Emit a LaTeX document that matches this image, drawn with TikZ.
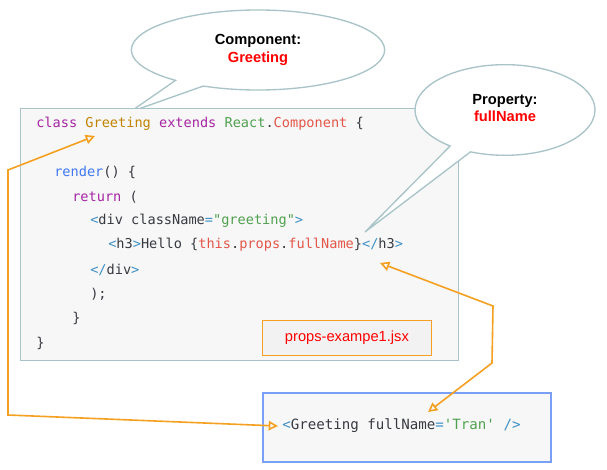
\documentclass[tikz,border=0pt]{standalone}
\usepackage{fontspec}
\setmainfont{Liberation Sans}
\setmonofont{DejaVu Sans Mono}
\usetikzlibrary{arrows.meta,shapes.callouts}
\definecolor{kw}{HTML}{A626A4}
\definecolor{cls}{HTML}{C18401}
\definecolor{grn}{HTML}{50A14F}
\definecolor{rd}{HTML}{E45649}
\definecolor{bl}{HTML}{4078F2}
\definecolor{tag}{HTML}{3C8FC6}
\definecolor{txt}{HTML}{383A42}
\definecolor{org}{HTML}{F5A020}
\definecolor{bubble}{HTML}{A9C4C8}
\tikzset{
 code/.style={anchor=west,inner sep=0pt,font=\ttfamily\fontsize{10.2}{12}\selectfont,text=txt},
 conn/.style={draw=org,line width=1.2pt,{Triangle[open,length=7pt,width=7pt]}-{Triangle[open,length=7pt,width=7pt]}},
 callout/.style={ellipse callout,draw=bubble,fill=white,inner sep=0pt},
 lbl/.style={font=\bfseries\fontsize{11}{13}\selectfont,align=center}
}
\begin{document}
\begin{tikzpicture}[x=0.75pt,y=-0.75pt]
\useasboundingbox (0,0) rectangle (607,470);
\node[draw=bubble,fill=white,line width=1pt,minimum width=125pt*1.0,callout absolute pointer={(130,112)},ellipse callout,minimum width=190pt,minimum height=60pt] (c1) at (258,50) {};
\node[lbl] (l1) at (258,50) {Component:\\\textcolor{red}{Greeting}};
\node[draw=bubble,line width=1pt,fill=none,rectangle,minimum width=328.5pt,minimum height=189pt,anchor=north west,fill=black!3] (box) at (20,108) {};
\node[draw=bubble,fill=white,line width=1pt,callout absolute pointer={(365,232)},ellipse callout,minimum width=135pt,minimum height=68pt] (c2) at (505,110) {};
\node[lbl] (l2) at (505,108) {Property:\\\textcolor{red}{fullName}};
\node[code] (t1) at (36,124) {\textcolor{kw}{class} \textcolor{cls}{Greeting} \textcolor{kw}{extends} \textcolor{grn}{React}.\textcolor{rd}{Component} \{};
\node[code] (t2) at (54,172) {\textcolor{bl}{render}() \{};
\node[code] (t3) at (72,197) {\textcolor{kw}{return} (};
\node[code] (t4) at (90,221) {\textcolor{tag}{<}div className\textcolor{tag}{=}\textcolor{grn}{"greeting"}\textcolor{tag}{>}};
\node[code] (t5) at (108,245) {\textcolor{tag}{<}h3\textcolor{tag}{>}Hello \{\textcolor{rd}{this}.\textcolor{rd}{props}.\textcolor{rd}{fullName}\}\textcolor{tag}{</}h3\textcolor{tag}{>}};
\node[code] (t6) at (90,270) {\textcolor{tag}{</}div\textcolor{tag}{>}};
\node[code] (t7) at (90,294) {);};
\node[code] (t8) at (72,318) {\}};
\node[code] (t9) at (36,343) {\}};
\node[draw=org,fill=black!5,anchor=north west,minimum width=127pt,minimum height=26pt,font=\fontsize{11}{13}\selectfont,text=red] (file) at (262,320) {props-exampe1.jsx};
\node[draw=bl!70!white,line width=1.2pt,fill=black!3,anchor=north west,minimum width=216pt,minimum height=52pt] (use) at (262,392) {};
\node[code,font=\ttfamily\fontsize{10.6}{12}\selectfont] (u) at (282,426) {\textcolor{tag}{<}Greeting fullName\textcolor{tag}{=}\textcolor{grn}{'Tran'} \textcolor{tag}{/>}};
\coordinate (g) at (95,136);
\coordinate (f) at (380,263);
\coordinate (ue) at (278,426);
\coordinate (un) at (428,412);
\draw[conn] (g) -- (8,170) -- (8,415) -- (ue);
\draw[conn] (f) -- (493,306) -- (492,363) -- (un);
\end{tikzpicture}
\end{document}
